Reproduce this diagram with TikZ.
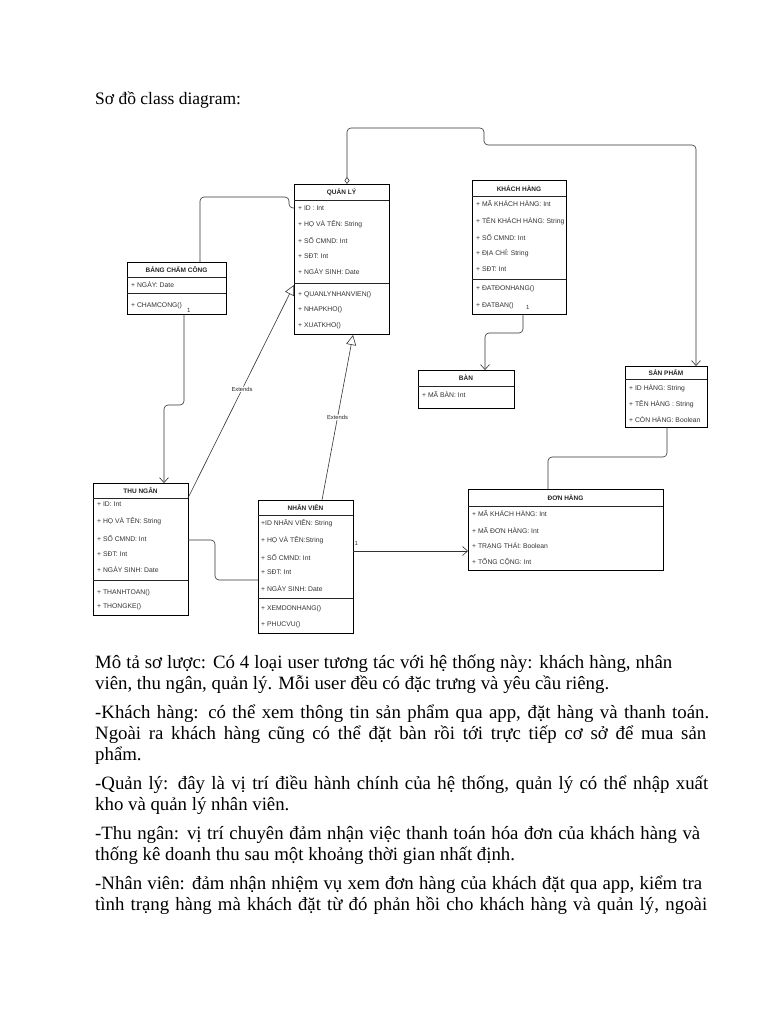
\documentclass[tikz,border=0pt]{standalone}
\usepackage{fontspec}
\setmainfont{Liberation Serif}
\newfontfamily\diagfont{Liberation Sans}
\usetikzlibrary{arrows.meta,calc}
\newcommand\jline[2]{\makebox[#1][s]{#2}}
\begin{document}
\begin{tikzpicture}[x=1pt,y=-1pt,
  clsbox/.style={draw=black, line width=0.7pt, anchor=north west, inner sep=0pt, outer sep=0pt},
  sepline/.style={draw=black!85, line width=0.6pt},
  ttl/.style={font=\diagfont\bfseries\fontsize{6.5}{7}\selectfont, inner sep=0pt, text=black!85},
  attr/.style={font=\diagfont\fontsize{6.8}{8}\selectfont, anchor=west, inner sep=0pt, text=black!80},
  conn/.style={draw=black!80, line width=0.6pt, rounded corners=4pt},
  barb/.style={-{Straight Barb[length=5pt,width=9pt]}},
  odia/.style={{Diamond[open,length=11pt,width=6pt]}-},
  fdia/.style={{Diamond[length=10pt,width=6pt]}-},
  gen/.style={-{Triangle[open,length=10pt,width=10pt]}},
  lbl/.style={font=\diagfont\fontsize{5.8}{6}\selectfont, fill=white, inner sep=0.5pt, text=black!85},
  para/.style={font=\fontsize{18.8}{22}\selectfont, anchor=base west, inner sep=0pt}
]
\useasboundingbox (0,0) rectangle (768,1024);
\fill[white] (0,0) rectangle (768,1024);

\node[para, font=\fontsize{17.5}{20}\selectfont] (title) at (95,105) {Sơ đồ class diagram:};

% QUAN LY
\node[clsbox, minimum width=95pt, minimum height=150pt] (ql) at (294,184) {};
\draw[sepline] (294,200) -- (389,200) (294,283) -- (389,283);
\node[ttl] (qlt) at (341.5,192) {QUẢN LÝ};
\node[attr] (qla1) at (298,208) {+ ID : Int};
\node[attr] (qla2) at (298,224) {+ HỌ VÀ TÊN: String};
\node[attr] (qla3) at (298,240) {+ SỐ CMND: Int};
\node[attr] (qla4) at (298,256) {+ SĐT: Int};
\node[attr] (qla5) at (298,272) {+ NGÀY SINH: Date};
\node[attr] (qlm1) at (298,295) {+ QUANLYNHANVIEN()};
\node[attr] (qlm2) at (298,310) {+ NHAPKHO()};
\node[attr] (qlm3) at (298,326) {+ XUATKHO()};

% KHACH HANG
\node[clsbox, minimum width=94pt, minimum height=134pt] (kh) at (472,180) {};
\draw[sepline] (472,196) -- (566,196) (472,279) -- (566,279);
\node[ttl] (kht) at (519,188.5) {KHÁCH HÀNG};
\node[attr] (kha1) at (476,204) {+ MÃ KHÁCH HÀNG: Int};
\node[attr] (kha2) at (476,221) {+ TÊN KHÁCH HÀNG: String};
\node[attr] (kha3) at (476,237) {+ SỐ CMND: Int};
\node[attr] (kha4) at (476,253) {+ ĐỊA CHỈ: String};
\node[attr] (kha5) at (476,269) {+ SĐT: Int};
\node[attr] (khm1) at (476,289) {+ ĐATĐONHANG()};
\node[attr] (khm2) at (476,306) {+ ĐATBAN()};
\node[attr, font=\diagfont\fontsize{6}{7}\selectfont] (kh1) at (526,307) {1};

% BANG CHAM CONG
\node[clsbox, minimum width=99pt, minimum height=52pt] (bcc) at (127,262) {};
\draw[sepline] (127,277) -- (226,277) (127,293) -- (226,293);
\node[ttl] (bcct) at (176.5,269.5) {BẢNG CHẤM CÔNG};
\node[attr] (bcca1) at (131,285) {+ NGÀY: Date};
\node[attr] (bccm1) at (131,306) {+ CHAMCONG()};
\node[attr, font=\diagfont\fontsize{6}{7}\selectfont] (bcc1) at (187,310) {1};

% BAN
\node[clsbox, minimum width=96pt, minimum height=38pt] (ban) at (418,370) {};
\draw[sepline] (418,386) -- (514,386);
\node[ttl] (bant) at (466,378) {BÀN};
\node[attr] (bana1) at (422,394.5) {+ MÃ BÀN: Int};

% SAN PHAM
\node[clsbox, minimum width=82pt, minimum height=61pt] (sp) at (625,366) {};
\draw[sepline] (625,379) -- (707,379);
\node[ttl] (spt) at (666,372.5) {SẢN PHẨM};
\node[attr] (spa1) at (629,388) {+ ID HÀNG: String};
\node[attr] (spa2) at (629,404.5) {+ TÊN HÀNG : String};
\node[attr] (spa3) at (629,420) {+ CÒN HÀNG: Boolean};

% DON HANG
\node[clsbox, minimum width=195pt, minimum height=81pt] (dh) at (468,489) {};
\draw[sepline] (468,506) -- (663,506);
\node[ttl] (dht) at (565.5,498) {ĐƠN HÀNG};
\node[attr] (dha1) at (472,514) {+ MÃ KHÁCH HÀNG: Int};
\node[attr] (dha2) at (472,530.5) {+ MÃ ĐƠN HÀNG: Int};
\node[attr] (dha3) at (472,546.5) {+ TRẠNG THÁI: Boolean};
\node[attr] (dha4) at (472,562) {+ TỔNG CỘNG: Int};

% THU NGAN
\node[clsbox, minimum width=95pt, minimum height=132pt] (tn) at (93,483) {};
\draw[sepline] (93,498) -- (188,498) (93,580) -- (188,580);
\node[ttl] (tnt) at (140.5,490.5) {THU NGÂN};
\node[attr] (tna1) at (97,504) {+ ID: Int};
\node[attr] (tna2) at (97,521.5) {+ HỌ VÀ TÊN: String};
\node[attr] (tna3) at (97,538) {+ SỐ CMND: Int};
\node[attr] (tna4) at (97,554) {+ SĐT: Int};
\node[attr] (tna5) at (97,570) {+ NGÀY SINH: Date};
\node[attr] (tnm1) at (97,592.5) {+ THANHTOAN()};
\node[attr] (tnm2) at (97,607) {+ THONGKE()};

% NHAN VIEN
\node[clsbox, minimum width=95pt, minimum height=133pt] (nv) at (258,500) {};
\draw[sepline] (258,515) -- (353,515) (258,598) -- (353,598);
\node[ttl] (nvt) at (305.5,508) {NHÂN VIÊN};
\node[attr] (nva1) at (261,523) {+ID NHÂN VIÊN: String};
\node[attr] (nva2) at (261,540.5) {+ HỌ VÀ TÊN:String};
\node[attr] (nva3) at (261,557) {+ SỐ CMND: Int};
\node[attr] (nva4) at (261,572.5) {+ SĐT: Int};
\node[attr] (nva5) at (261,588.5) {+ NGÀY SINH: Date};
\node[attr] (nvm1) at (261,609) {+ XEMDONHANG()};
\node[attr] (nvm2) at (261,625) {+ PHUCVU()};
\node[attr, font=\diagfont\fontsize{6}{7}\selectfont] (nv1) at (354.5,543) {1};

% connectors
\draw[conn, {Diamond[open,length=7pt,width=5pt]}-{Straight Barb[length=5pt,width=9pt]}]
  ($(ql.north west)+(53,0)$) |- (484,128) |- (696,145) -- ($(sp.north west)+(71,0)$);
\draw[conn] ($(ql.north west)+(0,24)$) -- (289,208) -- (289,197) -- (200,197) -- ($(bcc.north west)+(73,0)$);
\draw[conn, odia, barb] ($(bcc.south west)+(57,0)$) -- (184,405) -- (164,405) -- ($(tn.north west)+(71,0)$);
\draw[conn, odia, barb] ($(kh.south west)+(51,0)$) -- (523,333) -- (485,333) -- ($(ban.north west)+(67,0)$);
\draw[conn] ($(sp.south west)+(42,0)$) -- (667,457) -- (548,457) -- ($(dh.north west)+(80,0)$);
\draw[conn, fdia, barb] ($(nv.north east)+(0,51)$) -- ($(dh.north west)+(0,62)$);
\draw[conn] ($(tn.north east)+(0,57)$) -- (215,540) -- (215,580) -- ($(nv.north west)+(0,80)$);
\draw[conn, gen] ($(tn.north east)+(0,15)$) -- node[lbl, pos=0.51] (ext1) {Extends} ($(ql.north west)+(0,101)$);
\draw[conn, gen] ($(nv.north west)+(64,0)$) -- node[lbl, pos=0.5] (ext2) {Extends} ($(ql.south west)+(59,1)$);

% text
\node[para] (p1) at (95,668) {\jline{577pt}{Mô tả sơ lược: Có 4 loại user tương tác với hệ thống này: khách hàng, nhân}};
\node[para] (p2) at (95,689) {viên, thu ngân, quản lý. Mỗi user đều có đặc trưng và yêu cầu riêng.};
\node[para] (p3) at (95,718) {\jline{614pt}{-Khách hàng: có thể xem thông tin sản phẩm qua app, đặt hàng và thanh toán.}};
\node[para] (p4) at (95,739) {\jline{611pt}{Ngoài ra khách hàng cũng có thể đặt bàn rồi tới trực tiếp cơ sở để mua sản}};
\node[para] (p5) at (95,760) {phẩm.};
\node[para] (p6) at (95,789) {\jline{613pt}{-Quản lý: đây là vị trí điều hành chính của hệ thống, quản lý có thể nhập xuất}};
\node[para] (p7) at (95,810) {kho và quản lý nhân viên.};
\node[para] (p8) at (95,839) {\jline{605pt}{-Thu ngân: vị trí chuyên đảm nhận việc thanh toán hóa đơn của khách hàng và}};
\node[para] (p9) at (95,860) {thống kê doanh thu sau một khoảng thời gian nhất định.};
\node[para] (p10) at (95,889) {\jline{607pt}{-Nhân viên: đảm nhận nhiệm vụ xem đơn hàng của khách đặt qua app, kiểm tra}};
\node[para] (p11) at (95,910) {\jline{612pt}{tình trạng hàng mà khách đặt từ đó phản hồi cho khách hàng và quản lý, ngoài}};
\end{tikzpicture}
\end{document}
